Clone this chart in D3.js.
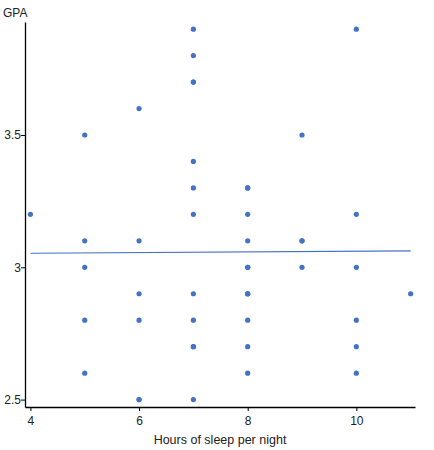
<!DOCTYPE html>
<html>
<head>
<meta charset="utf-8">
<script src="https://cdn.jsdelivr.net/npm/d3@7"></script>
<style>
  body { margin: 0; background: #fff; }
  text { font-family: "Liberation Sans", Arial, sans-serif; }
</style>
</head>
<body>
<div id="display"></div>
<script>
// hours of sleep (x) and GPA (y), one entry per student
var hours = [4,
  5, 5, 5, 5, 5,
  6, 6, 6, 6, 6, 6,
  7, 7, 7, 7, 7, 7, 7, 7, 7, 7, 7, 7,
  8, 8, 8, 8, 8, 8, 8, 8, 8, 8, 8, 8,
  9, 9, 9, 9,
  10, 10, 10, 10, 10, 10,
  11];
var gpa = [3.2,
  3.5, 3.1, 3.0, 2.8, 2.6,
  3.6, 3.1, 2.9, 2.8, 2.5, 2.5,
  3.9, 3.8, 3.7, 3.7, 3.4, 3.3, 3.2, 2.9, 2.8, 2.7, 2.7, 2.5,
  3.3, 3.3, 3.2, 3.1, 3.0, 3.0, 2.9, 2.9, 2.8, 2.7, 2.6, 2.9,
  3.5, 3.1, 3.1, 3.0,
  3.9, 3.2, 3.0, 2.8, 2.7, 2.6,
  2.9];
var xTicks = [4, 6, 8, 10];
var yTicks = [2.5, 3, 3.5];
var trendX = [4, 11];
var trendY = [3.053, 3.062];

var colourPoint = "#4472c4";

var width = 434, height = 450;
var svg = d3.select("#display").append("svg")
    .attr("width", width)
    .attr("height", height);

var x = d3.scaleLinear().domain([3.9, 11.08]).range([25, 415]);
var y = d3.scaleLinear().domain([2.472, 3.927]).range([407, 22]);

var data = hours.map(function(h, i) { return {x: h, y: gpa[i]}; });

// axes
var xAxis = svg.append("g")
    .attr("transform", "translate(0,407)")
    .call(d3.axisBottom(x).tickValues(xTicks).tickFormat(d3.format("d")).tickSize(4).tickSizeOuter(0));
var yAxis = svg.append("g")
    .attr("transform", "translate(25,0)")
    .call(d3.axisLeft(y).tickValues(yTicks).tickFormat(function(d) { return d; }).tickSize(4).tickSizeOuter(0));

[xAxis, yAxis].forEach(function(a) {
  a.select(".domain").attr("stroke", "#000").attr("stroke-width", 1.3);
  a.selectAll(".tick line").attr("stroke", "#000");
  a.selectAll(".tick text")
      .attr("fill", "#222")
      .style("font-family", "'Liberation Sans', Arial, sans-serif")
      .style("font-size", "12px");
});
xAxis.selectAll(".tick text").attr("dy", "0.9em");
yAxis.selectAll(".tick text").attr("x", -4);

// trend line
svg.append("line")
    .attr("x1", x(trendX[0]))
    .attr("y1", y(trendY[0]))
    .attr("x2", x(trendX[1]))
    .attr("y2", y(trendY[1]))
    .attr("stroke", colourPoint)
    .attr("stroke-width", 1.1);

// points
svg.append("g")
  .selectAll("circle")
  .data(data)
  .enter().append("circle")
    .attr("cx", function(d) { return x(d.x); })
    .attr("cy", function(d) { return y(d.y); })
    .attr("r", 2.6)
    .attr("fill", colourPoint);

// titles
svg.append("text")
    .attr("x", 3)
    .attr("y", 17)
    .attr("fill", "#222")
    .style("font-size", "12px")
    .text("GPA");

svg.append("text")
    .attr("x", 220)
    .attr("y", 444)
    .attr("text-anchor", "middle")
    .attr("fill", "#222")
    .style("font-size", "12.5px")
    .text("Hours of sleep per night");
</script>
</body>
</html>
